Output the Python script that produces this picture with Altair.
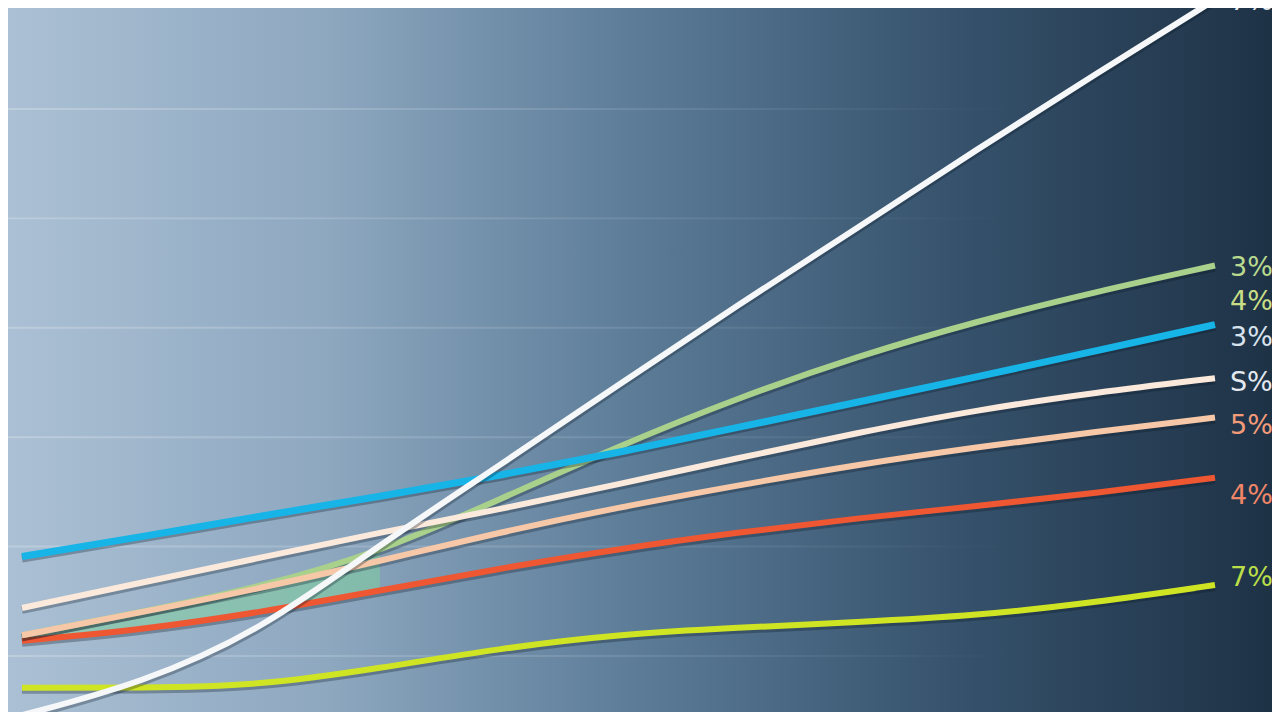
"""Seven growth lines on a blue gradient, labelled at the right edge."""

import altair as alt
import pandas as pd

# x steps (equal spacing across the plot)
steps = list(range(11))

# series values (index units, grid every 10)
white = [-5.5, -2.6, 2.2, 10.1, 17.3, 24.7, 32.0, 39.0, 46.2, 53.1, 59.9]
green = [1.8, 3.9, 6.2, 9.4, 14.2, 19.1, 23.5, 27.3, 30.5, 33.2, 35.6]
blue = [9.0, 10.8, 12.7, 14.5, 16.4, 18.5, 20.8, 23.1, 25.4, 27.8, 30.2]
cream = [4.3, 6.6, 8.9, 11.2, 13.3, 15.6, 18.0, 20.3, 22.4, 24.0, 25.3]
peach = [1.8, 3.9, 6.1, 8.6, 11.2, 13.5, 15.5, 17.4, 19.0, 20.4, 21.7]
red = [1.3, 2.3, 3.9, 5.9, 7.9, 9.7, 11.2, 12.5, 13.6, 14.8, 16.2]
lime = [-3.0, -3.0, -2.8, -1.2, 0.6, 1.9, 2.5, 3.0, 3.6, 4.8, 6.4]

# green band between the green and red lines, first steps only
band_steps = 4

# end labels
label_text = ["7%", "3%", "4%", "3%", "S%", "5%", "4%", "7%"]
label_value = [59.7, 35.4, 32.3, 29.0, 24.9, 20.9, 14.5, 7.0]

grid_values = [0, 10, 20, 30, 40, 50]

# styles
_LINE_COLORS = {
    "lime": "#cfe524",
    "red": "#ef5632",
    "green": "#a9d18c",
    "blue": "#17b4e8",
    "peach": "#f7c8a8",
    "cream": "#fbe9dc",
    "white": "#f5f7f9",
}
_LABEL_COLORS = ["#e6edf3", "#b9da8e", "#c9dd86", "#d9e3ee",
                 "#e4e9f0", "#f39b78", "#f08567", "#badf48"]
_BG_STOPS = [("#abc0d4", 0.0), ("#8ea8c0", 0.25), ("#5b7b97", 0.5),
             ("#36526c", 0.75), ("#1e3246", 1.0)]

W, H = 1264, 704
X = alt.Scale(domain=[-0.117, 10.478], nice=False, zero=False)
Y = alt.Scale(domain=[-5.21, 59.14], nice=False, zero=False)

series = {"lime": lime, "red": red, "green": green, "blue": blue,
          "peach": peach, "cream": cream, "white": white}
wide = pd.DataFrame({"step": steps, **series})
long = wide.melt(id_vars="step", var_name="series", value_name="value")

background = alt.Chart(pd.DataFrame({"a": [0]})).mark_rect(
    color=alt.LinearGradient(
        gradient="linear",
        stops=[alt.GradientStop(color=c, offset=o) for c, o in _BG_STOPS],
        x1=0, x2=1, y1=0, y2=0,
    )
).encode(x=alt.value(0), x2=alt.value(W), y=alt.value(0), y2=alt.value(H))

grid = (
    alt.Chart(pd.DataFrame({"g": grid_values}))
    .transform_calculate(g2="datum.g - 0.18", x0="-0.117", x1="10.478")
    .mark_rect(
        color=alt.LinearGradient(
            gradient="linear",
            stops=[
                alt.GradientStop(color="rgba(255,255,255,0.22)", offset=0),
                alt.GradientStop(color="rgba(255,255,255,0.10)", offset=0.5),
                alt.GradientStop(color="rgba(255,255,255,0.0)", offset=0.8),
            ],
            x1=0, x2=1, y1=0, y2=0,
        )
    )
    .encode(
        x=alt.X("x0:Q", scale=X, axis=None),
        x2="x1:Q",
        y=alt.Y("g:Q", scale=Y, axis=None),
        y2="g2:Q",
    )
)

band = (
    alt.Chart(wide[wide["step"] < band_steps])
    .mark_area(color="#7fcf9e", opacity=0.55, interpolate="basis", clip=True)
    .encode(
        x=alt.X("step:Q", scale=X, axis=None),
        y=alt.Y("green:Q", scale=Y, axis=None),
        y2="red:Q",
    )
)

layers = [background, grid, band]
for name in ["lime", "red", "green", "blue", "peach", "cream", "white"]:
    base = alt.Chart(long).transform_filter(alt.datum.series == name)
    enc = dict(
        x=alt.X("step:Q", scale=X, axis=None),
        y=alt.Y("value:Q", scale=Y, axis=None),
    )
    shadow = base.mark_line(
        color="#0b1826", opacity=0.3, strokeWidth=8, yOffset=2,
        interpolate="basis", clip=True, strokeCap="butt",
    ).encode(**enc)
    line = base.mark_line(
        color=_LINE_COLORS[name], strokeWidth=7 if name == "blue" else 6,
        interpolate="basis", clip=True, strokeCap="butt",
    ).encode(**enc)
    layers += [shadow, line]

labels_df = pd.DataFrame({
    "text": label_text,
    "value": label_value,
    "lx": steps[-1],
    "color": _LABEL_COLORS,
})
labels = alt.Chart(labels_df).mark_text(
    align="left", baseline="middle", dx=15, fontSize=27,
    font="DejaVu Sans", clip=True,
).encode(
    x=alt.X("lx:Q", scale=X, axis=None),
    y=alt.Y("value:Q", scale=Y, axis=None),
    text="text:N",
    color=alt.Color("color:N", scale=None),
)
layers.append(labels)

chart = (
    alt.layer(*layers)
    .properties(width=W, height=H, padding=0, background="#1e3246",
                autosize=alt.AutoSizeParams(type="fit", contains="padding"))
    .configure_view(stroke=None)
)

chart.save("out.html", embed_options={"renderer": "svg", "actions": False})
